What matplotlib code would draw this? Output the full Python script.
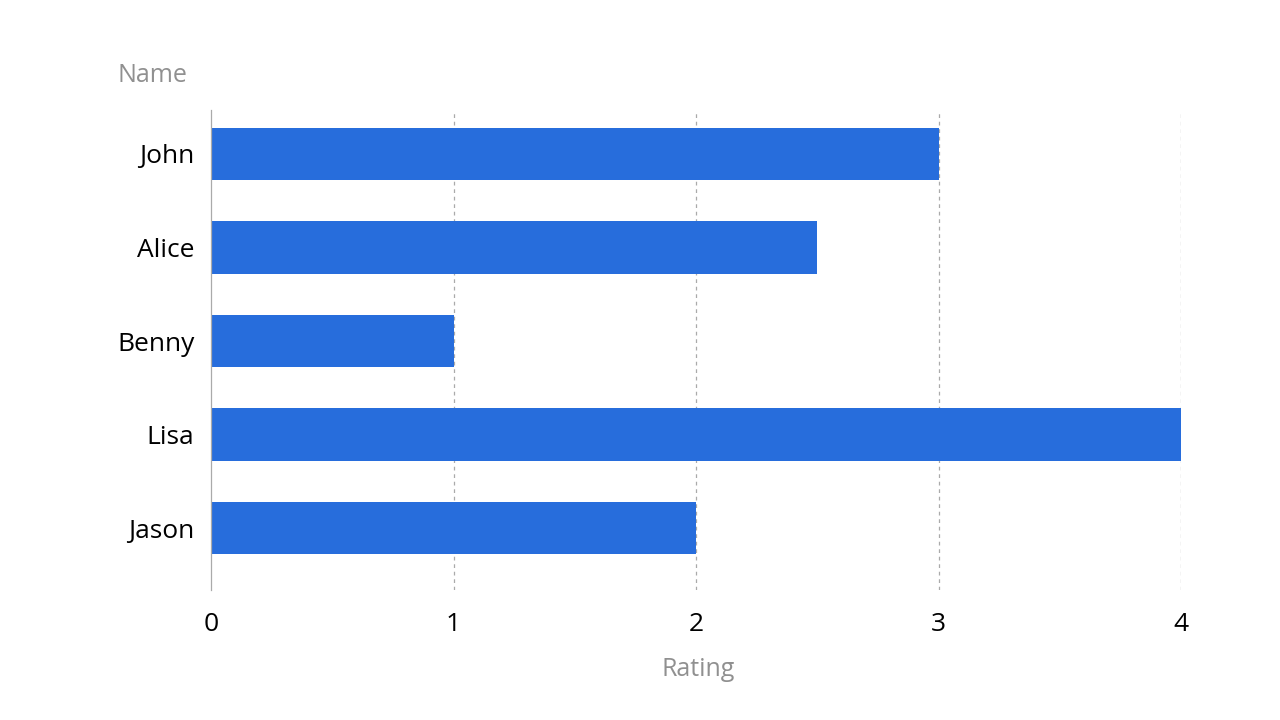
import matplotlib
matplotlib.use("Agg")
from matplotlib import pyplot as plt

names = ["John", "Alice", "Benny", "Lisa", "Jason"]
ratings = [3, 2.5, 1, 4, 2]
xticks = [0, 1, 2, 3, 4]

plt.rcParams['font.family'] = ['Open Sans', 'DejaVu Sans']

fig = plt.figure(figsize=(12.8, 7.2), dpi=100)
ax = fig.add_axes([211/1280, 1-590/720, 970/1280, 480/720])

ax.barh(range(len(names)), ratings, height=0.56, color='#276ddc')
ax.set_ylim(4.66, -0.47)
ax.set_xlim(0, 4)
ax.set_yticks(range(len(names)))
ax.set_yticklabels(names, fontsize=19)
ax.set_xticks(xticks)
ax.set_xticklabels([str(t) for t in xticks], fontsize=19)
ax.tick_params(length=0, pad=12)
ax.tick_params(axis='x', pad=16)

for t in xticks[1:]:
    ax.axvline(t, color='#aaaaaa', linestyle=(0, (3, 3)), linewidth=0.9, zorder=0)

for s in ['top', 'right', 'bottom']:
    ax.spines[s].set_visible(False)
ax.spines['left'].set_color('#aaaaaa')
ax.spines['left'].set_linewidth(0.9)

fig.text(152/1280, 1-75/720, "Name", fontsize=18, color='#909090', ha='center', va='center')
fig.text(698/1280, 1-670/720, "Rating", fontsize=18, color='#909090', ha='center', va='center')

fig.savefig("out.png", dpi=100)
